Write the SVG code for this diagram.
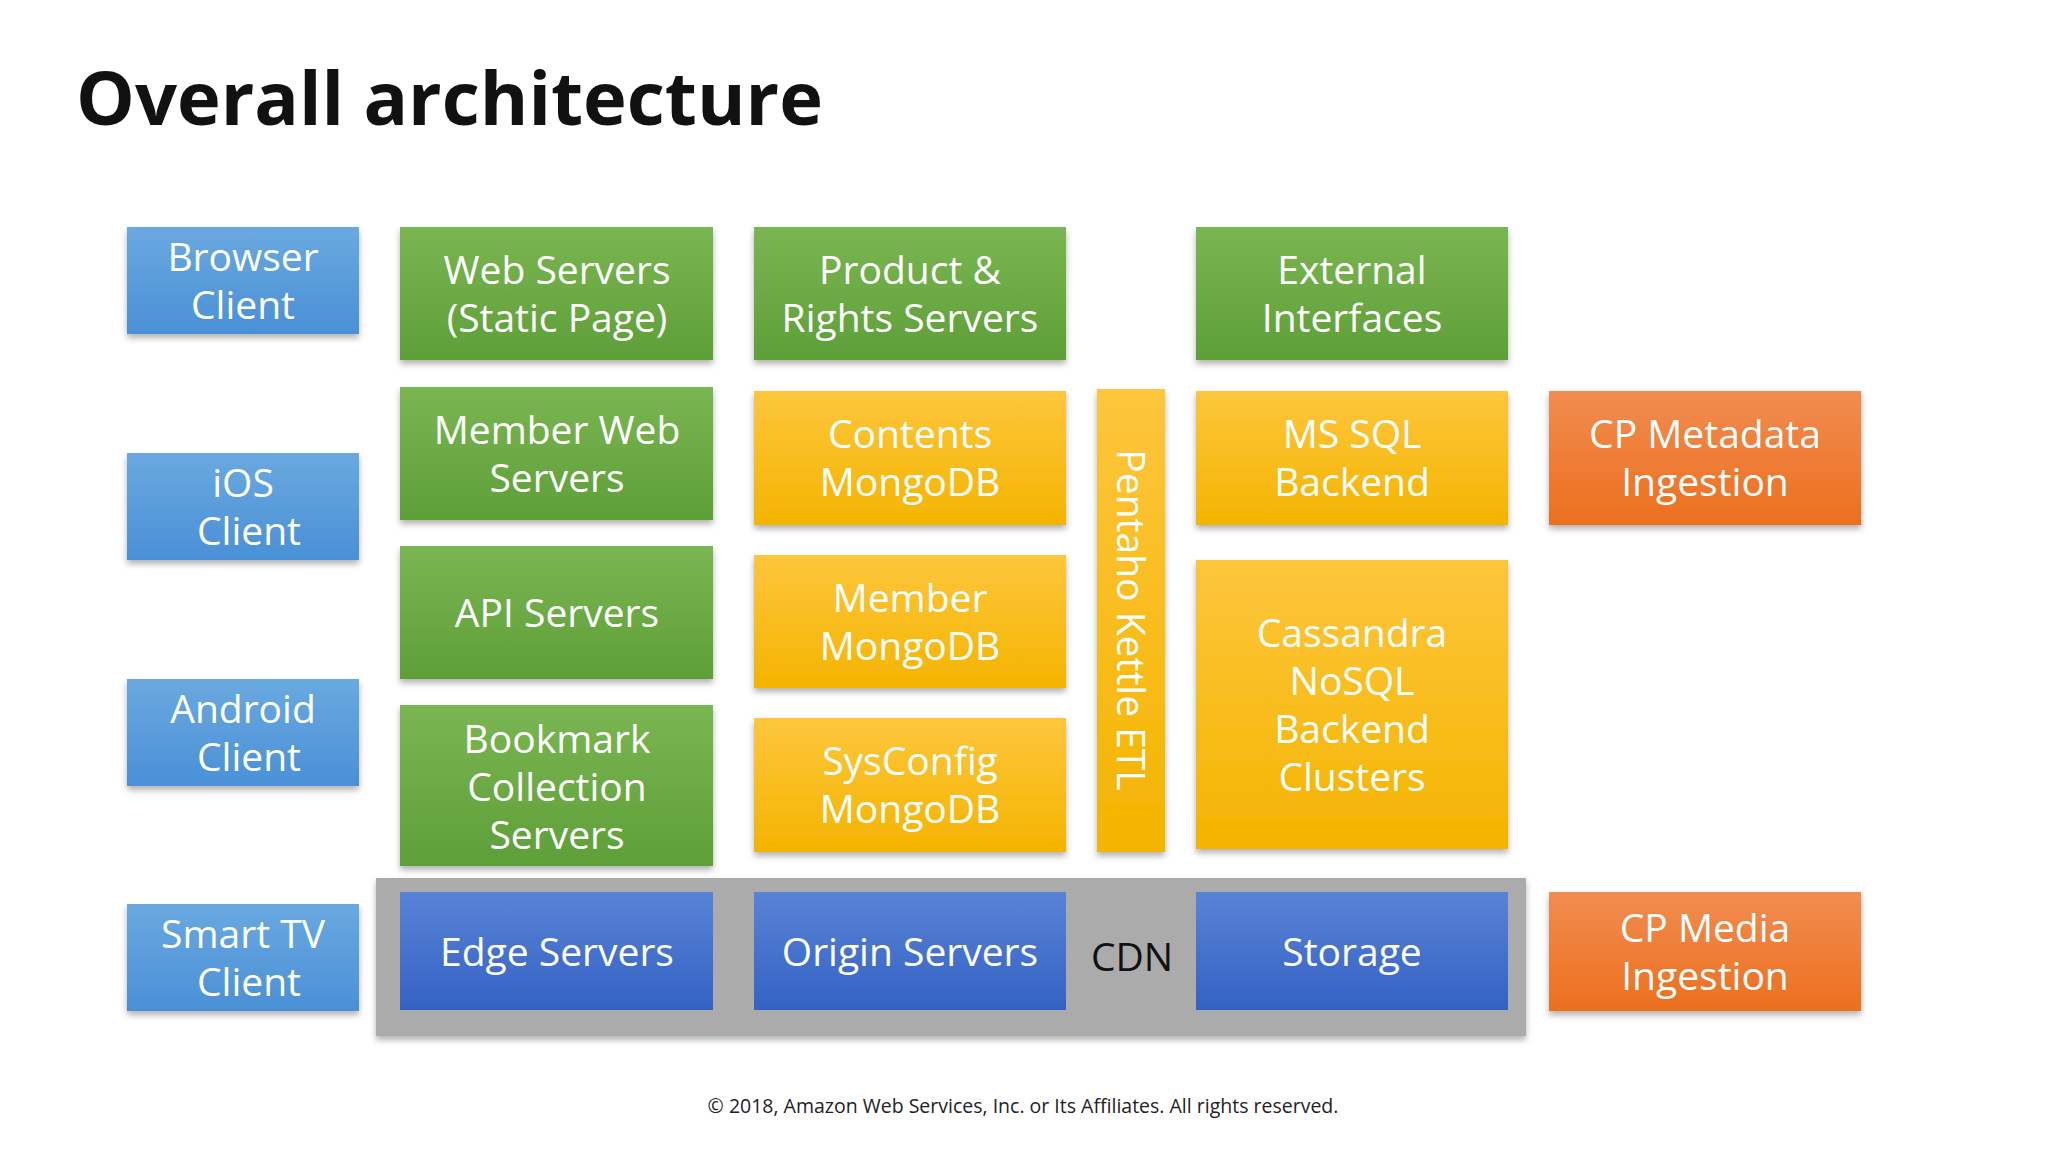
<svg xmlns="http://www.w3.org/2000/svg" width="2048" height="1152" viewBox="0 0 2048 1152">
<defs>
<linearGradient id="gb" x1="0" y1="0" x2="0" y2="1"><stop offset="0" stop-color="#6aa9e0"/><stop offset="1" stop-color="#4a90d6"/></linearGradient>
<linearGradient id="gg" x1="0" y1="0" x2="0" y2="1"><stop offset="0" stop-color="#7ab652"/><stop offset="1" stop-color="#5e9f38"/></linearGradient>
<linearGradient id="gy" x1="0" y1="0" x2="0" y2="1"><stop offset="0" stop-color="#fdc63c"/><stop offset="1" stop-color="#f4b400"/></linearGradient>
<linearGradient id="go" x1="0" y1="0" x2="0" y2="1"><stop offset="0" stop-color="#f28c50"/><stop offset="1" stop-color="#ec6f1e"/></linearGradient>
<linearGradient id="gd" x1="0" y1="0" x2="0" y2="1"><stop offset="0" stop-color="#5883d6"/><stop offset="1" stop-color="#3462c4"/></linearGradient>
<filter id="sh" x="-10%" y="-10%" width="120%" height="130%"><feDropShadow dx="0" dy="4" stdDeviation="3" flood-opacity="0.3"/></filter>
</defs>
<style>
text{font-family:"Open Sans","Liberation Sans",sans-serif;text-anchor:middle}
.t{fill:#fff;font-size:39px}
.b{fill:url(#gb);filter:url(#sh)}
.g{fill:url(#gg);filter:url(#sh)}
.y{fill:url(#gy);filter:url(#sh)}
.o{fill:url(#go);filter:url(#sh)}
.d{fill:url(#gd)}
</style>
<rect width="2048" height="1152" fill="#fff"/>
<text x="76" y="125" font-size="74" font-weight="bold" fill="#111" style="text-anchor:start">Overall architecture</text>
<g id="cdn"><rect x="376" y="878" width="1150" height="158" fill="#ababab" filter="url(#sh)"/><text x="1132" y="971" font-size="39" fill="#111">CDN</text></g>
<g id="browser"><rect class="b" x="127" y="227" width="232" height="107"/><text class="t" x="243" y="271">Browser</text><text class="t" x="243" y="319">Client</text></g>
<g id="ios"><rect class="b" x="127" y="453" width="232" height="107"/><text class="t" x="243" y="497">iOS</text><text class="t" x="249" y="545">Client</text></g>
<g id="android"><rect class="b" x="127" y="679" width="232" height="107"/><text class="t" x="243" y="723">Android</text><text class="t" x="249" y="771">Client</text></g>
<g id="smarttv"><rect class="b" x="127" y="904" width="232" height="107"/><text class="t" x="243" y="948">Smart TV</text><text class="t" x="249" y="996">Client</text></g>
<g id="web"><rect class="g" x="400" y="227" width="313" height="133"/><text class="t" x="557" y="284">Web Servers</text><text class="t" x="557" y="332">(Static Page)</text></g>
<g id="memberweb"><rect class="g" x="400" y="387" width="313" height="133"/><text class="t" x="557" y="444">Member Web</text><text class="t" x="557" y="492">Servers</text></g>
<g id="api"><rect class="g" x="400" y="546" width="313" height="133"/><text class="t" x="557" y="627">API Servers</text></g>
<g id="bookmark"><rect class="g" x="400" y="705" width="313" height="161"/><text class="t" x="557" y="753">Bookmark</text><text class="t" x="557" y="801">Collection</text><text class="t" x="557" y="849">Servers</text></g>
<g id="product"><rect class="g" x="754" y="227" width="312" height="133"/><text class="t" x="910" y="284">Product &amp;</text><text class="t" x="910" y="332">Rights Servers</text></g>
<g id="contents"><rect class="y" x="754" y="391" width="312" height="134"/><text class="t" x="910" y="448">Contents</text><text class="t" x="910" y="496">MongoDB</text></g>
<g id="membermongo"><rect class="y" x="754" y="555" width="312" height="133"/><text class="t" x="910" y="612">Member</text><text class="t" x="910" y="660">MongoDB</text></g>
<g id="sysconfig"><rect class="y" x="754" y="718" width="312" height="134"/><text class="t" x="910" y="775">SysConfig</text><text class="t" x="910" y="823">MongoDB</text></g>
<g id="pentaho"><rect class="y" x="1097" y="389" width="68" height="463"/><text class="t" transform="translate(1117,620) rotate(90)">Pentaho Kettle ETL</text></g>
<g id="external"><rect class="g" x="1196" y="227" width="312" height="133"/><text class="t" x="1352" y="284">External</text><text class="t" x="1352" y="332">Interfaces</text></g>
<g id="mssql"><rect class="y" x="1196" y="391" width="312" height="134"/><text class="t" x="1352" y="448">MS SQL</text><text class="t" x="1352" y="496">Backend</text></g>
<g id="cassandra"><rect class="y" x="1196" y="560" width="312" height="289"/><text class="t" x="1352" y="647">Cassandra</text><text class="t" x="1352" y="695">NoSQL</text><text class="t" x="1352" y="743">Backend</text><text class="t" x="1352" y="791">Clusters</text></g>
<g id="cpmeta"><rect class="o" x="1549" y="391" width="312" height="134"/><text class="t" x="1705" y="448">CP Metadata</text><text class="t" x="1705" y="496">Ingestion</text></g>
<g id="cpmedia"><rect class="o" x="1549" y="892" width="312" height="119"/><text class="t" x="1705" y="942">CP Media</text><text class="t" x="1705" y="990">Ingestion</text></g>
<g id="edge"><rect class="d" x="400" y="892" width="313" height="118"/><text class="t" x="557" y="966">Edge Servers</text></g>
<g id="origin"><rect class="d" x="754" y="892" width="312" height="118"/><text class="t" x="910" y="966">Origin Servers</text></g>
<g id="storage"><rect class="d" x="1196" y="892" width="312" height="118"/><text class="t" x="1352" y="966">Storage</text></g>
<g id="connectors"/>
<text x="1023" y="1113" font-size="19.5" fill="#222">© 2018, Amazon Web Services, Inc. or Its Affiliates. All rights reserved.</text>
</svg>
